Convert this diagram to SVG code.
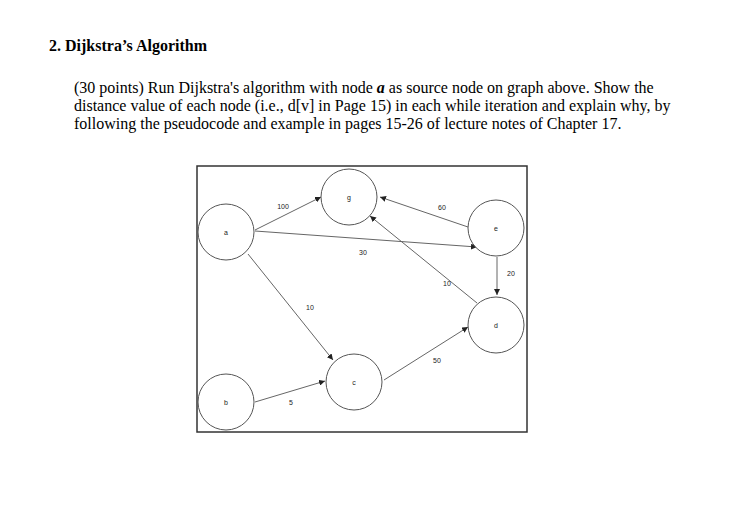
<svg xmlns="http://www.w3.org/2000/svg" width="735" height="523" viewBox="0 0 735 523">
<style>
.t{font-family:"Liberation Serif",serif;font-size:16px;fill:#000}
.n circle{fill:#fff;stroke:#555;stroke-width:1}
.n text,.l{font-family:"Liberation Sans",Arial,sans-serif;font-size:7px;fill:#222;text-anchor:middle}
.e line{stroke:#666;stroke-width:1;marker-end:url(#ar)}
</style>
<defs><marker id="ar" viewBox="0 0 8 8" refX="8" refY="4" markerWidth="6" markerHeight="6" orient="auto" markerUnits="userSpaceOnUse"><path d="M0,0L8,4L0,8z" fill="#222"/></marker></defs>
<rect width="735" height="523" fill="#fff"/>
<text class="t" x="49" y="51" font-weight="bold">2.  Dijkstra’s Algorithm</text>
<text class="t" x="74" y="93">(30 points) Run Dijkstra's algorithm with node <tspan font-weight="bold" font-style="italic">a</tspan> as source node on graph above. Show the</text>
<text class="t" x="74" y="111">distance value of each node (i.e., d[v] in Page 15) in each while iteration and explain why, by</text>
<text class="t" x="74" y="129">following the pseudocode and example in pages 15-26 of lecture notes of Chapter 17.</text>
<rect x="197" y="166" width="330" height="266" fill="none" stroke="#333" stroke-width="1.5"/>
<g id="edges" class="e">
<line x1="255" y1="230" x2="321" y2="197"/>
<line x1="255" y1="231" x2="477" y2="247"/>
<line x1="248" y1="254" x2="333" y2="360"/>
<line x1="255" y1="402" x2="325" y2="381"/>
<line x1="384" y1="380" x2="468" y2="327"/>
<line x1="468" y1="227" x2="380" y2="197"/>
<line x1="477" y1="303" x2="370" y2="216"/>
<line x1="497" y1="257" x2="497" y2="295"/>
</g>
<g id="labels">
<text class="l" x="283" y="209">100</text>
<text class="l" x="442" y="210">60</text>
<text class="l" x="363" y="255">30</text>
<text class="l" x="511" y="276">20</text>
<text class="l" x="447" y="286">10</text>
<text class="l" x="310" y="310">10</text>
<text class="l" x="437" y="363">50</text>
<text class="l" x="291" y="405">5</text>
</g>
<g id="a" class="n"><circle cx="226" cy="232" r="28"/><text x="226" y="235">a</text></g>
<g id="g" class="n"><circle cx="349" cy="197" r="28"/><text x="349" y="200">g</text></g>
<g id="e" class="n"><circle cx="496" cy="228" r="28"/><text x="496" y="231">e</text></g>
<g id="d" class="n"><circle cx="496" cy="325" r="28"/><text x="496" y="328">d</text></g>
<g id="c" class="n"><circle cx="354" cy="382" r="28"/><text x="354" y="385">c</text></g>
<g id="b" class="n"><circle cx="226" cy="402" r="28"/><text x="226" y="405">b</text></g>
</svg>
